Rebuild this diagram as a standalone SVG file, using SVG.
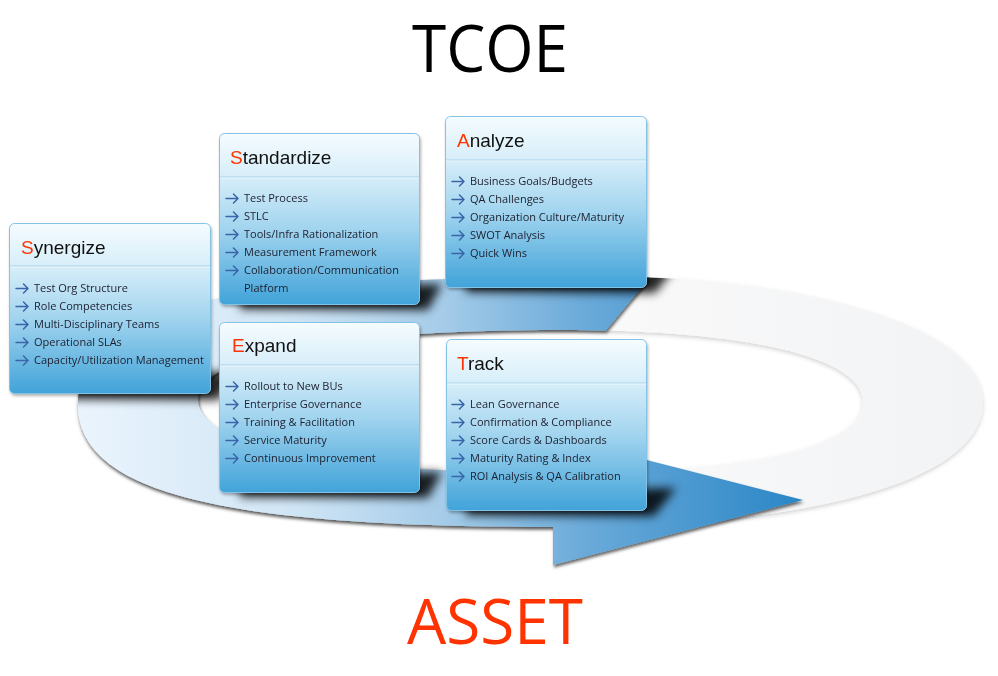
<svg xmlns="http://www.w3.org/2000/svg" width="998" height="676" viewBox="0 0 998 676">
<defs>
<style>
.title{font-family:"Liberation Sans",Arial,sans-serif;font-size:19px;fill:#111}
.red{fill:#ff3300}
.item{font-family:"Open Sans","Liberation Sans",sans-serif;font-size:11px;fill:#1d1f2e}
.box{fill:url(#boxGrad);stroke:#84c3e5;stroke-width:1}
.sep{stroke:#a6d1ea;stroke-width:1}
.sepw{stroke:#ffffff;stroke-opacity:0.6;stroke-width:1}
.bul{fill:none;stroke:#3a66a9;stroke-width:1.5;stroke-linecap:round;stroke-linejoin:round}
.cast{fill:#000;fill-opacity:0.85}
.big{font-family:"Open Sans","Liberation Sans",sans-serif}
</style>
<linearGradient id="boxGrad" x1="0" y1="0" x2="0" y2="1">
 <stop offset="0" stop-color="#f5fcff"/>
 <stop offset="0.25" stop-color="#d7eef9"/>
 <stop offset="0.55" stop-color="#a3d5ef"/>
 <stop offset="1" stop-color="#41a3d9"/>
</linearGradient>
<linearGradient id="blueGrad" gradientUnits="userSpaceOnUse" x1="78" y1="0" x2="803" y2="0">
 <stop offset="0" stop-color="#eaf4fd"/>
 <stop offset="0.3" stop-color="#d0e5f5"/>
 <stop offset="0.5" stop-color="#a6cce9"/>
 <stop offset="0.7" stop-color="#6aaad9"/>
 <stop offset="1" stop-color="#2a86c6"/>
</linearGradient>
<linearGradient id="greyGrad" gradientUnits="userSpaceOnUse" x1="500" y1="0" x2="983" y2="0">
 <stop offset="0" stop-color="#fbfbfc"/>
 <stop offset="1" stop-color="#f2f3f4"/>
</linearGradient>
<filter id="ringSh" x="-5%" y="-10%" width="110%" height="130%"><feDropShadow dx="0" dy="2" stdDeviation="2" flood-color="#000" flood-opacity="0.18"/></filter>
<filter id="blueSh" x="-5%" y="-10%" width="110%" height="130%"><feDropShadow dx="1" dy="2.5" stdDeviation="1.5" flood-color="#000" flood-opacity="0.6"/></filter>
<filter id="boxSh" x="-10%" y="-10%" width="120%" height="125%"><feDropShadow dx="1" dy="2" stdDeviation="1.5" flood-color="#000" flood-opacity="0.3"/></filter>
<filter id="blur5" x="-30%" y="-100%" width="160%" height="300%"><feGaussianBlur stdDeviation="5"/></filter>
<clipPath id="ringClip">
 <path d="M620 277C780 277 983 320 983 402C983 484 800 527 560 527C250 527 78 500 78 405C78 300 230 277 620 277Z"/>
 <polygon points="553,436 803,500 553,565"/>
</clipPath>
<clipPath id="leftClip"><polygon points="714,200 598,340 553,340 553,600 0,600 0,200"/></clipPath>
<path id="bul" d="M0 0H12M7.5-4.5L12 0L7.5 4.5"/>
</defs>

<rect width="998" height="676" fill="#ffffff"/>

<text class="big" x="412" y="72" font-size="66" fill="#000" textLength="156" lengthAdjust="spacingAndGlyphs">TCOE</text>

<g id="connectors">
 <path id="ring" filter="url(#ringSh)" fill="url(#greyGrad)" fill-rule="evenodd" d="M620 277C780 277 983 320 983 402C983 484 800 527 560 527C250 527 78 500 78 405C78 300 230 277 620 277Z M560 330C760 330 863 360 863 402C863 445 760 473 560 473C330 473 198 445 198 400C198 350 360 330 560 330Z"/>
 <g id="cycle-arrow" filter="url(#blueSh)">
  <path fill="url(#blueGrad)" fill-rule="evenodd" clip-path="url(#leftClip)" d="M620 277C780 277 983 320 983 402C983 484 800 527 560 527C250 527 78 500 78 405C78 300 230 277 620 277Z M560 330C760 330 863 360 863 402C863 445 760 473 560 473C330 473 198 445 198 400C198 350 360 330 560 330Z"/>
  <polygon fill="url(#blueGrad)" points="553,436 803,500 553,565"/>
 </g>
 <g clip-path="url(#ringClip)">
  <g filter="url(#blur5)">
   <polygon class="cast" points="30,376 233,372 219,400 30,399"/>
   <polygon class="cast" points="240,286 442,284 428,310 240,309"/>
   <polygon class="cast" points="466,269 677,265 655,293 466,292"/>
   <polygon class="cast" points="240,474 442,472 428,498 240,497"/>
   <polygon class="cast" points="466,492 676,488 654,516 466,515"/>
  </g>
 </g>
</g>

<g id="synergize">
 <rect class="box" filter="url(#boxSh)" x="9.5" y="223.5" width="201" height="170" rx="5"/>
 <line class="sep" x1="10" y1="266" x2="210" y2="266"/>
 <line class="sepw" x1="10" y1="267" x2="210" y2="267"/>
 <text class="title" x="21" y="254"><tspan class="red">S</tspan>ynergize</text>
 <use href="#bul" class="bul" x="16" y="288.5"/>
 <use href="#bul" class="bul" x="16" y="306.5"/>
 <use href="#bul" class="bul" x="16" y="324.5"/>
 <use href="#bul" class="bul" x="16" y="342.5"/>
 <use href="#bul" class="bul" x="16" y="360.5"/>
 <text class="item" x="34" y="292">Test Org Structure</text>
 <text class="item" x="34" y="310">Role Competencies</text>
 <text class="item" x="34" y="328">Multi-Disciplinary Teams</text>
 <text class="item" x="34" y="346">Operational SLAs</text>
 <text class="item" x="34" y="364">Capacity/Utilization Management</text>
</g>

<g id="standardize">
 <rect class="box" filter="url(#boxSh)" x="219.5" y="133.5" width="200" height="171" rx="5"/>
 <line class="sep" x1="220" y1="177" x2="419" y2="177"/>
 <line class="sepw" x1="220" y1="178" x2="419" y2="178"/>
 <text class="title" x="230" y="164"><tspan class="red">S</tspan>tandardize</text>
 <use href="#bul" class="bul" x="226" y="198.5"/>
 <use href="#bul" class="bul" x="226" y="216.5"/>
 <use href="#bul" class="bul" x="226" y="234.5"/>
 <use href="#bul" class="bul" x="226" y="252.5"/>
 <use href="#bul" class="bul" x="226" y="270.5"/>
 <text class="item" x="244" y="202">Test Process</text>
 <text class="item" x="244" y="220">STLC</text>
 <text class="item" x="244" y="238">Tools/Infra Rationalization</text>
 <text class="item" x="244" y="256">Measurement Framework</text>
 <text class="item" x="244" y="274">Collaboration/Communication</text>
 <text class="item" x="244" y="292">Platform</text>
</g>

<g id="analyze">
 <rect class="box" filter="url(#boxSh)" x="445.5" y="116.5" width="201" height="171" rx="5"/>
 <line class="sep" x1="446" y1="160" x2="646" y2="160"/>
 <line class="sepw" x1="446" y1="161" x2="646" y2="161"/>
 <text class="title" x="457" y="147"><tspan class="red">A</tspan>nalyze</text>
 <use href="#bul" class="bul" x="452" y="181.5"/>
 <use href="#bul" class="bul" x="452" y="199.5"/>
 <use href="#bul" class="bul" x="452" y="217.5"/>
 <use href="#bul" class="bul" x="452" y="235.5"/>
 <use href="#bul" class="bul" x="452" y="253.5"/>
 <text class="item" x="470" y="185">Business Goals/Budgets</text>
 <text class="item" x="470" y="203">QA Challenges</text>
 <text class="item" x="470" y="221">Organization Culture/Maturity</text>
 <text class="item" x="470" y="239">SWOT Analysis</text>
 <text class="item" x="470" y="257">Quick Wins</text>
</g>

<g id="expand">
 <rect class="box" filter="url(#boxSh)" x="219.5" y="322.5" width="200" height="170" rx="5"/>
 <line class="sep" x1="220" y1="365" x2="419" y2="365"/>
 <line class="sepw" x1="220" y1="366" x2="419" y2="366"/>
 <text class="title" x="232" y="352"><tspan class="red">E</tspan>xpand</text>
 <use href="#bul" class="bul" x="226" y="386.5"/>
 <use href="#bul" class="bul" x="226" y="404.5"/>
 <use href="#bul" class="bul" x="226" y="422.5"/>
 <use href="#bul" class="bul" x="226" y="440.5"/>
 <use href="#bul" class="bul" x="226" y="458.5"/>
 <text class="item" x="244" y="390">Rollout to New BUs</text>
 <text class="item" x="244" y="408">Enterprise Governance</text>
 <text class="item" x="244" y="426">Training &amp; Facilitation</text>
 <text class="item" x="244" y="444">Service Maturity</text>
 <text class="item" x="244" y="462">Continuous Improvement</text>
</g>

<g id="track">
 <rect class="box" filter="url(#boxSh)" x="446.5" y="339.5" width="200" height="171" rx="5"/>
 <line class="sep" x1="447" y1="383" x2="646" y2="383"/>
 <line class="sepw" x1="447" y1="384" x2="646" y2="384"/>
 <text class="title" x="457" y="370"><tspan class="red">T</tspan>rack</text>
 <use href="#bul" class="bul" x="452" y="404.5"/>
 <use href="#bul" class="bul" x="452" y="422.5"/>
 <use href="#bul" class="bul" x="452" y="440.5"/>
 <use href="#bul" class="bul" x="452" y="458.5"/>
 <use href="#bul" class="bul" x="452" y="476.5"/>
 <text class="item" x="470" y="408">Lean Governance</text>
 <text class="item" x="470" y="426">Confirmation &amp; Compliance</text>
 <text class="item" x="470" y="444">Score Cards &amp; Dashboards</text>
 <text class="item" x="470" y="462">Maturity Rating &amp; Index</text>
 <text class="item" x="470" y="480">ROI Analysis &amp; QA Calibration</text>
</g>

<text class="big" x="407" y="644" font-size="62" fill="#ff3300" textLength="176" lengthAdjust="spacingAndGlyphs">ASSET</text>
</svg>
